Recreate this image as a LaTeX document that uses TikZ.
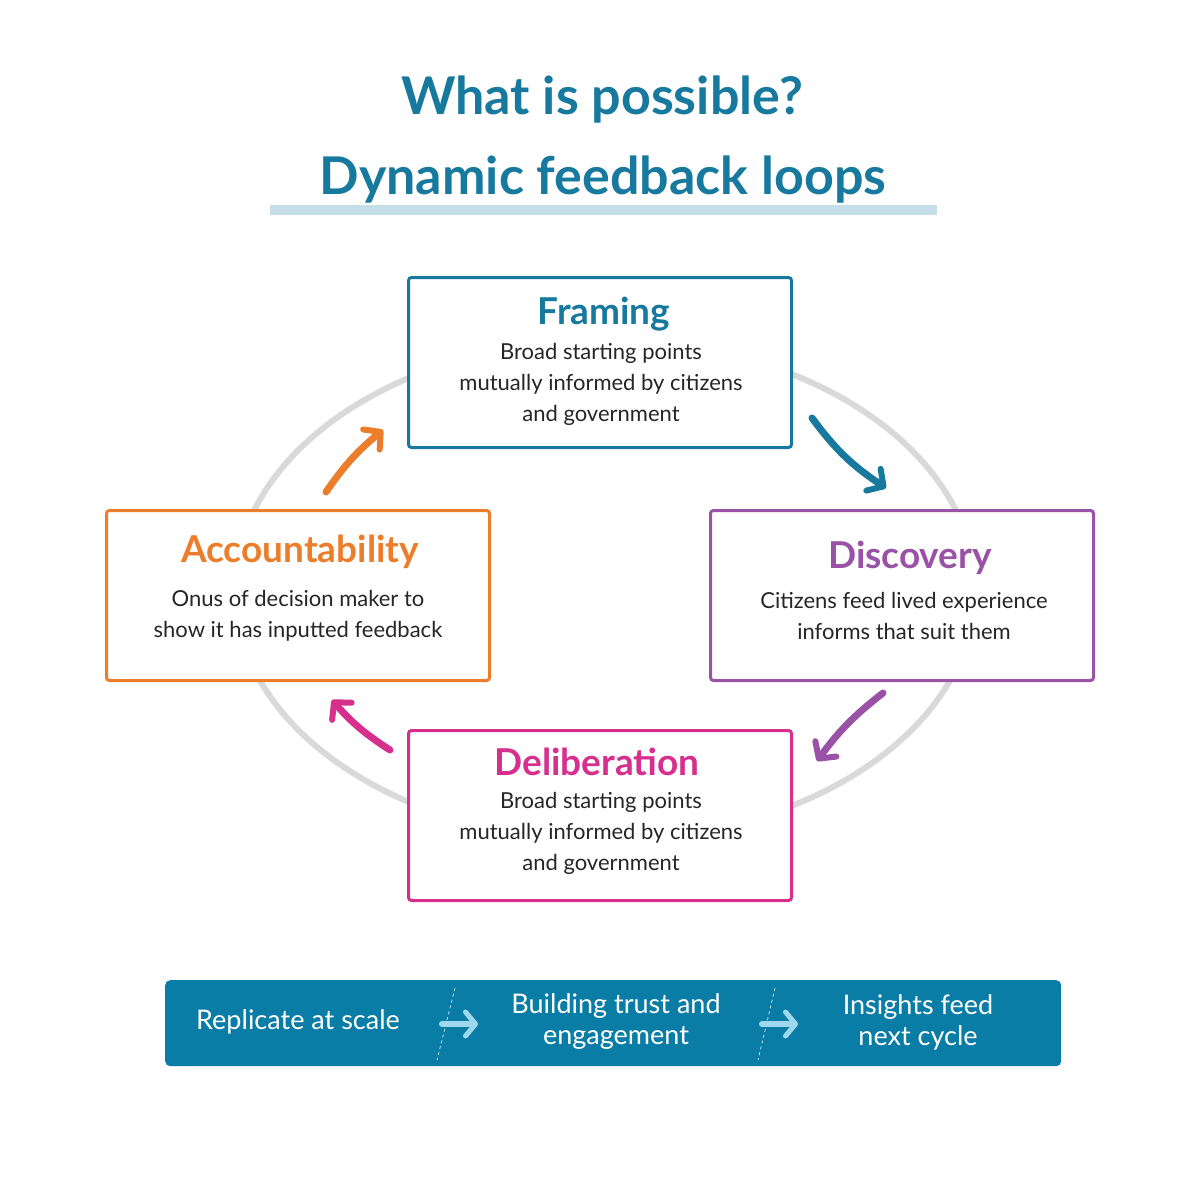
\documentclass[tikz,border=0pt]{standalone}
\usepackage{fontspec}
\setmainfont{Lato}
\usetikzlibrary{arrows.meta}
\definecolor{fblue}{HTML}{17799E}
\definecolor{fpurp}{HTML}{9A52A6}
\definecolor{fpink}{HTML}{D62F8E}
\definecolor{forange}{HTML}{EC7D2B}
\definecolor{barblue}{HTML}{0A7DA6}
\definecolor{lightb}{HTML}{9FD8EC}
\begin{document}
\begin{tikzpicture}[x=1pt,y=-1pt,
 box/.style={draw=#1,line width=3pt,rounded corners=3pt,fill=white,minimum width=383pt,minimum height=170pt,anchor=north west},
 ttl/.style={font=\fontsize{37}{40}\selectfont\bfseries,text=#1},
 body/.style={font=\fontsize{22}{31}\selectfont,align=center,text=black!85},
 carr/.style={draw=#1,line width=7pt,line cap=round,-{Straight Barb[length=12pt,width=26pt,line width=6pt,round]}},
 bart/.style={font=\fontsize{27}{31}\selectfont,text=white,align=center}]
\useasboundingbox (0,0) rectangle (1204,1177);
\node[font=\fontsize{52}{56}\selectfont\bfseries,text=fblue] (t1) at (602,100) {What is possible?};
\fill[fblue!25] (270,205) rectangle (937,215);
\node[font=\fontsize{52}{56}\selectfont\bfseries,text=fblue] (t2) at (603,180) {Dynamic feedback loops};
\draw[black!15,line width=6pt] (605,590) ellipse (370 and 250);
\node[box=fblue] (fr) at (407,276) {};
\node[ttl=fblue] at (604,314) {Framing};
\node[body] at (601,384) {Broad starting points\\mutually informed by citizens\\and government};
\node[box=fpurp] (di) at (709,509) {};
\node[ttl=fpurp] at (910,558) {Discovery};
\node[body] at (904,616) {Citizens feed lived experience\\informs that suit them};
\node[box=fpink] (de) at (407,729) {};
\node[ttl=fpink] at (597,762) {Deliberation};
\node[body] at (601,833) {Broad starting points\\mutually informed by citizens\\and government};
\node[box=forange] (ac) at (105,509) {};
\node[ttl=forange] at (300,552) {Accountability};
\node[body] at (298,616) {Onus of decision maker to\\show it has inputted feedback};
\coordinate (a1) at (812,418); \coordinate (b1) at (886,488);
\coordinate (a2) at (883,693); \coordinate (b2) at (817,761);
\coordinate (a3) at (390,750); \coordinate (b3) at (332,700);
\coordinate (a4) at (326,492); \coordinate (b4) at (383,430);
\draw[carr=fblue] (a1) to[bend right=10] (b1);
\draw[carr=fpurp] (a2) to[bend right=8] (b2);
\draw[carr=fpink] (a3) to[bend left=8] (b3);
\draw[carr=forange] (a4) to[bend left=8] (b4);
\node[fill=barblue,rounded corners=5pt,minimum width=896pt,minimum height=86pt,anchor=north west] (bar) at (165,980) {};
\node[bart] (r1) at (298,1022) {Replicate at scale};
\node[bart] (r2) at (616,1022) {Building trust and\\engagement};
\node[bart] (r3) at (918,1022) {Insights feed\\next cycle};
\draw[lightb!70,dashed,line width=0.8pt] (455,988) -- (437,1060);
\draw[lightb!70,dashed,line width=0.8pt] (775,988) -- (758,1060);
\draw[lightb,line width=6pt,line cap=round,-{Straight Barb[length=10pt,width=24pt,line width=5pt,round]}] (442,1024) -- (478,1024);
\draw[lightb,line width=6pt,line cap=round,-{Straight Barb[length=10pt,width=24pt,line width=5pt,round]}] (762,1024) -- (798,1024);
\end{tikzpicture}
\end{document}
